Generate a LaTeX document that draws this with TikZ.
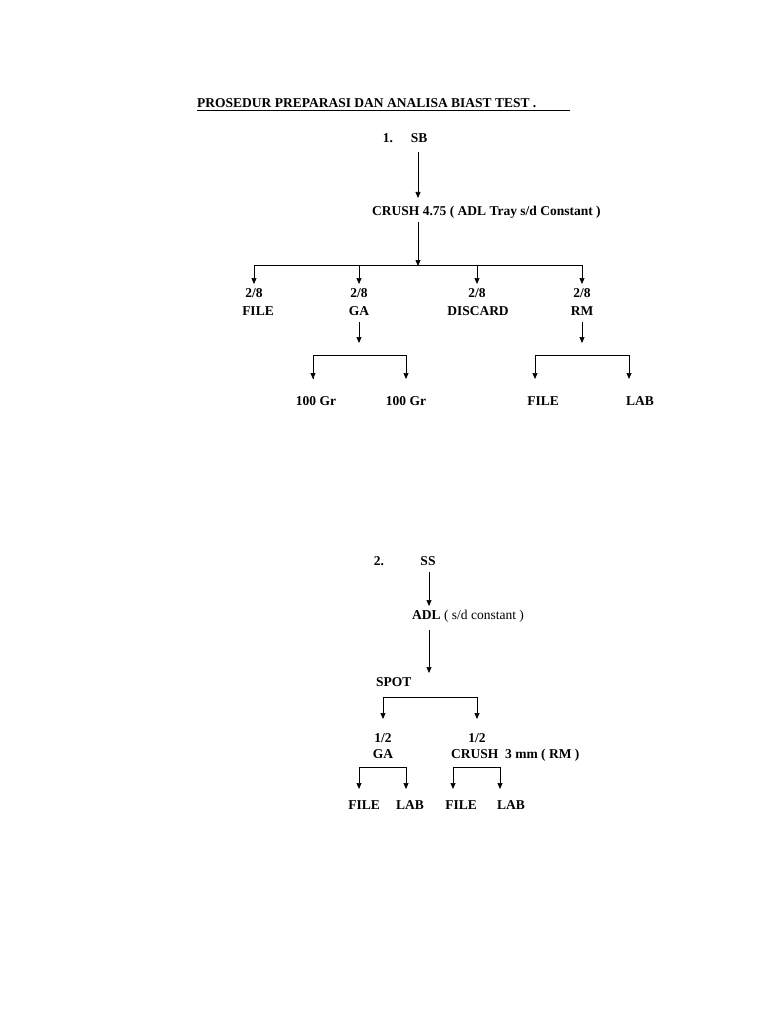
\documentclass[tikz,border=0pt]{standalone}
\usepackage{fontspec}
\setmainfont{Liberation Serif}
\usetikzlibrary{arrows.meta}
\begin{document}
\begin{tikzpicture}[x=1pt,y=-1pt,
  lbl/.style={font=\fontsize{13.5}{15}\selectfont\bfseries,inner sep=0pt,anchor=base},
  arr/.style={-{Triangle[length=6pt,width=5pt]},line width=0.7pt},
  ln/.style={line width=0.7pt}]
\useasboundingbox (0,0) rectangle (768,1024);
\node[lbl,anchor=base west] (title) at (197,108) {PROSEDUR PREPARASI DAN ANALISA BIAST TEST .};
\draw[line width=0.6pt] (title.base west)++(0,2.5) -- ++(373,0);
% part 1
\node[lbl] (n1) at (388,143) {1.};
\node[lbl] (sb) at (419,143) {SB};
\node[lbl,anchor=base west] (crush) at (372,215) {CRUSH 4.75 ( ADL Tray s/d Constant )};
\coordinate (c1a) at (418,152); \coordinate (c1b) at (418,198);
\draw[arr] (c1a) -- (c1b);
\coordinate (c2a) at (418,222); \coordinate (c2b) at (418,266);
\draw[arr] (c2a) -- (c2b);
\draw[ln] (254,265) -- (582,265);
\foreach \x/\n in {254/a,359/b,477/c,582/d}{
  \coordinate (t\n) at (\x,265); \coordinate (h\n) at (\x,284);
  \draw[arr] (t\n) -- (h\n);}
\node[lbl] (fa) at (254,297) {2/8};
\node[lbl] (fb) at (359,297) {2/8};
\node[lbl] (fc) at (477,297) {2/8};
\node[lbl] (fd) at (582,297) {2/8};
\node[lbl] (file1) at (258,315) {FILE};
\node[lbl] (ga1) at (359,315) {GA};
\node[lbl] (disc) at (478,315) {DISCARD};
\node[lbl] (rm1) at (582,315) {RM};
\coordinate (g1) at (359,322); \coordinate (g2) at (359,343);
\draw[arr] (g1) -- (g2);
\coordinate (r1) at (582,322); \coordinate (r2) at (582,343);
\draw[arr] (r1) -- (r2);
\draw[ln] (313,379) |- (406,355) -- (406,365);
\draw[arr] (313,355) -- (313,379);
\draw[arr] (406,355) -- (406,379);
\draw[ln] (535,355) -- (629,355);
\draw[arr] (535,355) -- (535,379);
\draw[arr] (629,355) -- (629,379);
\node[lbl] (gr1) at (316,405) {100 Gr};
\node[lbl] (gr2) at (406,405) {100 Gr};
\node[lbl] (file2) at (543,405) {FILE};
\node[lbl] (lab2) at (640,405) {LAB};
% part 2
\node[lbl] (n2) at (379,565) {2.};
\node[lbl] (ss) at (428,565) {SS};
\node[lbl,anchor=base west] (adl) at (412,619) {ADL {\mdseries ( s/d constant )}};
\coordinate (s1) at (429,572); \coordinate (s2) at (429,606);
\draw[arr] (s1) -- (s2);
\coordinate (a1) at (429,630); \coordinate (a2) at (429,673);
\draw[arr] (a1) -- (a2);
\node[lbl,anchor=base west] (spot) at (376,686) {SPOT};
\draw[ln] (383,697) -- (477,697);
\draw[arr] (383,697) -- (383,719);
\draw[arr] (477,697) -- (477,719);
\node[lbl] (h1) at (383,742) {1/2};
\node[lbl] (h2) at (477,742) {1/2};
\node[lbl] (ga2) at (383,758) {GA};
\node[lbl,anchor=base west] (cr2) at (451,758) {CRUSH\ \ 3 mm ( RM )};
\draw[ln] (359,767) -- (406,767);
\draw[arr] (359,767) -- (359,789);
\draw[arr] (406,767) -- (406,789);
\draw[ln] (453,767) -- (500,767);
\draw[arr] (453,767) -- (453,789);
\draw[arr] (500,767) -- (500,789);
\node[lbl] (f3) at (364,809) {FILE};
\node[lbl] (l3) at (410,809) {LAB};
\node[lbl] (f4) at (461,809) {FILE};
\node[lbl] (l4) at (511,809) {LAB};
\end{tikzpicture}
\end{document}
